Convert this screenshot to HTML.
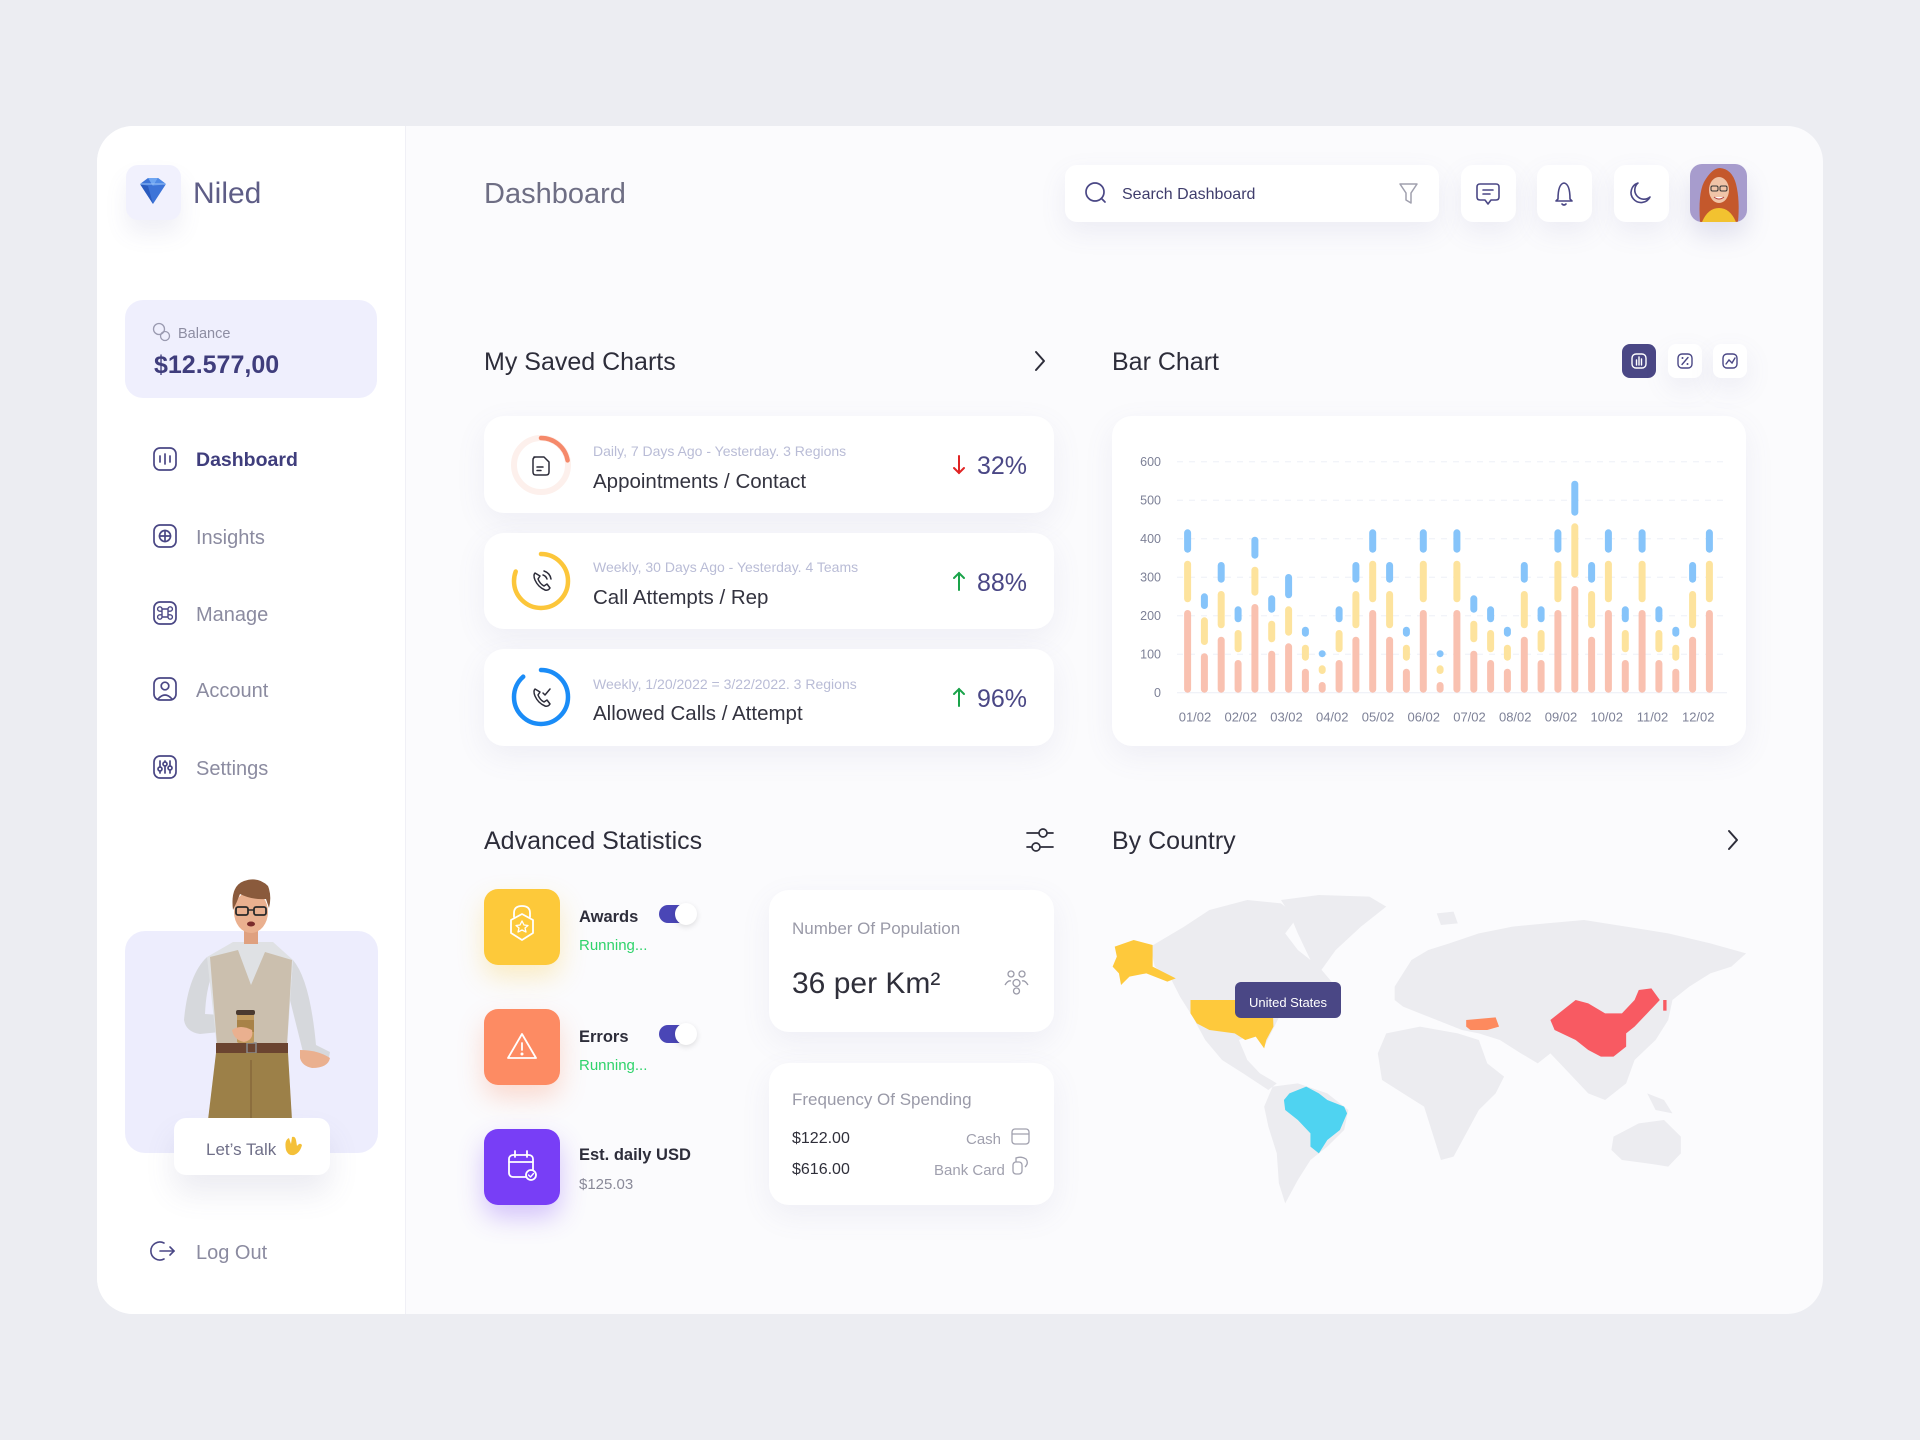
<!DOCTYPE html>
<html><head><meta charset="utf-8">
<style>
*{margin:0;padding:0;box-sizing:border-box}
html,body{width:1920px;height:1440px;overflow:hidden;background:#ecedf2;font-family:"Liberation Sans",sans-serif}
.a{position:absolute}
.t{position:absolute;white-space:nowrap;line-height:1;transform:translateY(2px)}
.card{position:absolute;background:#fff;border-radius:20px;box-shadow:0 10px 30px rgba(110,110,170,.09)}
.ib{position:absolute;background:#fff;border-radius:12px;box-shadow:0 10px 26px rgba(110,110,170,.10)}
svg{position:absolute;overflow:visible}
</style></head><body>

<!-- outer shell -->
<div class="a" style="left:97px;top:126px;width:1726px;height:1188px;border-radius:36px;background:#fbfbfd;overflow:hidden">
  <div class="a" style="left:0;top:0;width:309px;height:1188px;background:#fff;border-right:1px solid #f0f0f6"></div>
</div>

<!-- ============ SIDEBAR ============ -->
<div class="a" style="left:126px;top:165px;width:55px;height:55px;border-radius:12px;background:#f1f1fd;box-shadow:0 14px 22px rgba(110,110,170,.10)"></div>
<svg style="left:0;top:0" width="1" height="1">
  <polygon points="140,184 148,178 158,178 166,184 153,204" fill="#3d74d8"/>
  <polygon points="140,184 153,204 148,186" fill="#2a5bbf"/>
  <polygon points="148,178 153,186 158,178" fill="#6fa6f2"/>
  <polygon points="153,186 158,178 166,184" fill="#4f8ae6"/>
  <polyline points="140,184 166,184" stroke="#9cc3f7" stroke-width="1" fill="none"/>
</svg>
<div class="t" style="left:193px;top:177px;font-size:30px;color:#5e5d86">Niled</div>

<!-- balance -->
<div class="a" style="left:125px;top:300px;width:252px;height:98px;border-radius:18px;background:#efeffd"></div>
<svg style="left:0;top:0" width="1" height="1">
  <circle cx="159" cy="329" r="5.5" fill="none" stroke="#9a9ab0" stroke-width="1.3"/>
  <circle cx="165" cy="336" r="4.5" fill="none" stroke="#9a9ab0" stroke-width="1.3"/>
</svg>
<div class="t" style="left:178px;top:325px;font-size:14.5px;color:#8d8da2">Balance</div>
<div class="t" style="left:154px;top:351px;font-size:25px;font-weight:bold;color:#3f3d7c">$12.577,00</div>

<!-- nav -->
<svg style="left:0;top:0" width="1" height="1" fill="none" stroke="#4a4785" stroke-width="1.7" stroke-linecap="round">
  <rect x="154" y="448" width="22" height="22" rx="6"/>
  <line x1="160" y1="456" x2="160" y2="462"/><line x1="165" y1="454" x2="165" y2="464"/><line x1="170" y1="456" x2="170" y2="462"/>
  <rect x="154" y="525" width="22" height="22" rx="6"/>
  <circle cx="165" cy="536" r="5.5"/><line x1="165" y1="530.5" x2="165" y2="541.5"/><line x1="159.5" y1="536" x2="170.5" y2="536"/>
  <rect x="154" y="602" width="22" height="22" rx="6"/>
  <path d="M162 609 h6 v8 h-6 z M162 609 a2.2 2.2 0 1 0 -2.2 2.2 h2.2 M168 609 a2.2 2.2 0 1 1 2.2 2.2 h-2.2 M162 617 a2.2 2.2 0 1 1 -2.2 -2.2 h2.2 M168 617 a2.2 2.2 0 1 0 2.2 -2.2 h-2.2" stroke-width="1.4"/>
  <rect x="154" y="678" width="22" height="22" rx="6"/>
  <circle cx="165" cy="686" r="3.8"/><path d="M158 699 q7 -8 14 0"/>
  <rect x="154" y="756" width="22" height="22" rx="6"/>
  <line x1="160" y1="761" x2="160" y2="773"/><circle cx="160" cy="769" r="2" fill="#fff"/>
  <line x1="165" y1="761" x2="165" y2="773"/><circle cx="165" cy="764" r="2" fill="#fff"/>
  <line x1="170" y1="761" x2="170" y2="773"/><circle cx="170" cy="768" r="2" fill="#fff"/>
</svg>
<div class="t" style="left:196px;top:449px;font-size:19.5px;font-weight:bold;color:#3f3d7c">Dashboard</div>
<div class="t" style="left:196px;top:526px;font-size:20px;color:#8b8ba0">Insights</div>
<div class="t" style="left:196px;top:603px;font-size:20px;color:#8b8ba0">Manage</div>
<div class="t" style="left:196px;top:679px;font-size:20px;color:#8b8ba0">Account</div>
<div class="t" style="left:196px;top:757px;font-size:20px;color:#8b8ba0">Settings</div>

<!-- character card -->
<div class="a" style="left:125px;top:931px;width:253px;height:222px;border-radius:20px;background:#ededfd"></div>
<svg style="left:0;top:0" width="1" height="1">
  <path d="M207 957 Q188 975 184 1020 Q186 1032 200 1034 L240 1030 L238 1016 L205 1014 Q206 990 212 975 Z" fill="#d6d8dc"/>
  <path d="M293 960 Q310 980 316 1045 L330 1052 L328 1062 L305 1060 Q300 1040 290 1000 Z" fill="#d6d8dc"/>
  <path d="M300 1050 Q318 1050 330 1058 Q328 1068 312 1068 Q302 1066 300 1058 Z" fill="#eab08f"/>
  <path d="M233 942 L273 942 L293 960 L287 1047 L217 1047 L207 957 Z" fill="#dfe1e4"/>
  <path d="M210 957 L238 950 L251 985 L265 952 L292 960 L287 1045 L217 1045 Z" fill="#cbbfae"/>
  <rect x="216" y="1043" width="72" height="10" fill="#6b4430"/>
  <rect x="247" y="1043" width="9" height="10" fill="none" stroke="#8a8a8a" stroke-width="1.5"/>
  <path d="M216 1053 L288 1053 L292 1120 L208 1120 Z" fill="#9c8048"/>
  <line x1="251" y1="1060" x2="251" y2="1120" stroke="#86693a" stroke-width="1.5"/>
  <rect x="237" y="1012" width="17" height="31" rx="2" fill="#c09a5e"/>
  <rect x="236" y="1010" width="19" height="5" rx="2" fill="#4a3a30"/>
  <rect x="237" y="1020" width="17" height="12" fill="#a88248"/>
  <path d="M232 1030 Q240 1024 252 1030 Q254 1040 244 1042 Q234 1040 232 1030 Z" fill="#eab08f"/>
  <rect x="244" y="928" width="14" height="16" fill="#dfa07f"/>
  <ellipse cx="251" cy="912" rx="17" ry="21" fill="#eab08f"/>
  <path d="M233 910 Q230 886 244 881 Q258 876 268 886 Q272 896 269 908 L266 899 Q252 900 240 894 Q237 902 233 910 Z" fill="#8a5a3c"/>
  <rect x="236" y="907" width="12" height="8" rx="2" fill="none" stroke="#2a2a2a" stroke-width="1.8"/>
  <rect x="254" y="907" width="12" height="8" rx="2" fill="none" stroke="#2a2a2a" stroke-width="1.8"/>
  <line x1="248" y1="910" x2="254" y2="910" stroke="#2a2a2a" stroke-width="1.5"/>
  <ellipse cx="251" cy="924" rx="4" ry="2.5" fill="#7a2b2b"/>
</svg>
<div class="a" style="left:174px;top:1118px;width:156px;height:57px;border-radius:12px;background:#fff;box-shadow:0 18px 30px rgba(100,100,150,.12)"></div>
<div class="t" style="left:206px;top:1139px;font-size:17px;color:#6f6f88">Let’s Talk</div>
<svg style="left:0;top:0" width="1" height="1">
  <path d="M286 1150 Q284 1140 289 1138 L291 1144 L292 1137 Q295 1136 296 1140 L297 1146 Q300 1142 302 1145 Q300 1153 294 1155 Q288 1156 286 1150 Z" fill="#f4c038"/>
</svg>

<!-- logout -->
<svg style="left:0;top:0" width="1" height="1" fill="none" stroke="#4a4785" stroke-width="1.6" stroke-linecap="round">
  <path d="M164 1243 A9 9 0 1 0 164 1259"/>
  <line x1="160" y1="1251" x2="174" y2="1251"/><path d="M170 1247 L174 1251 L170 1255"/>
</svg>
<div class="t" style="left:196px;top:1241px;font-size:20px;color:#8b8ba0">Log Out</div>

<!-- ============ HEADER ============ -->
<div class="t" style="left:484px;top:178px;font-size:29px;color:#6e6e84">Dashboard</div>

<div class="ib" style="left:1065px;top:165px;width:374px;height:57px"></div>
<svg style="left:0;top:0" width="1" height="1" fill="none" stroke-linecap="round">
  <circle cx="1095" cy="192" r="9" stroke="#4a4785" stroke-width="1.7"/>
  <line x1="1101.5" y1="198.5" x2="1105" y2="202" stroke="#4a4785" stroke-width="1.7"/>
  <path d="M1400 184 H1417 L1411 193 V203 L1406 200 V193 Z" stroke="#a0a0ae" stroke-width="1.5" stroke-linejoin="round"/>
</svg>
<div class="t" style="left:1122px;top:185px;font-size:16px;color:#3f3d6c">Search Dashboard</div>

<div class="ib" style="left:1461px;top:165px;width:55px;height:57px"></div>
<div class="ib" style="left:1537px;top:165px;width:55px;height:57px"></div>
<div class="ib" style="left:1614px;top:165px;width:55px;height:57px"></div>
<svg style="left:0;top:0" width="1" height="1" fill="none" stroke="#4a4785" stroke-width="1.6" stroke-linecap="round" stroke-linejoin="round">
  <path d="M1480 184 H1496 Q1499 184 1499 187 V197 Q1499 200 1496 200 H1491 L1488 204 L1485 200 H1480 Q1477 200 1477 197 V187 Q1477 184 1480 184 Z"/>
  <line x1="1483" y1="190" x2="1493" y2="190"/><line x1="1483" y1="194" x2="1490" y2="194"/>
  <path d="M1558 199 Q1558 184 1564 183 Q1570 184 1570 199 L1572 201 H1556 Z"/>
  <path d="M1562 204 Q1564 206 1566 204"/>
  <path d="M1638 183 A10 10 0 1 0 1650 197 A8 8 0 0 1 1638 183 Z"/>
</svg>
<div class="a" style="left:1690px;top:164px;width:57px;height:58px;border-radius:12px;overflow:hidden;background:#a79ccd;box-shadow:0 14px 24px rgba(110,110,170,.18)">
  <svg style="left:0;top:0" width="57" height="58">
    <path d="M10 58 Q8 30 14 18 Q22 4 30 4 Q42 5 46 20 Q50 36 48 58 Z" fill="#c4582c"/>
    <ellipse cx="29" cy="26" rx="10" ry="13" fill="#f0c4a8"/>
    <path d="M12 58 Q18 44 29 44 Q40 44 46 58 Z" fill="#f2c230"/>
    <rect x="21" y="22" width="7" height="5" rx="1.5" fill="none" stroke="#333" stroke-width="1"/>
    <rect x="30" y="22" width="7" height="5" rx="1.5" fill="none" stroke="#333" stroke-width="1"/>
    <path d="M24 33 Q29 37 34 33" fill="#fff" stroke="#b04040" stroke-width="1"/>
  </svg>
</div>

<!-- ============ MY SAVED CHARTS ============ -->
<div class="t" style="left:484px;top:348px;font-size:25px;color:#2d2d3a">My Saved Charts</div>
<svg style="left:0;top:0" width="1" height="1"><path d="M1036 352 L1044 361 L1036 370" fill="none" stroke="#2d2d3a" stroke-width="2" stroke-linecap="round" stroke-linejoin="round"/></svg>

<div class="card" style="left:484px;top:416px;width:570px;height:97px"></div>
<div class="card" style="left:484px;top:533px;width:570px;height:96px"></div>
<div class="card" style="left:484px;top:649px;width:570px;height:97px"></div>

<svg style="left:0;top:0" width="1" height="1" fill="none" stroke-linecap="round">
  <circle cx="541" cy="465" r="27" stroke="#fdf0ec" stroke-width="6"/>
  <circle cx="541" cy="465" r="27" stroke="#f5896a" stroke-width="4.5" stroke-dasharray="37.7 200" transform="rotate(-90 541 465)"/>
  <circle cx="541" cy="581" r="27" stroke="#fcc63a" stroke-width="4.5" stroke-dasharray="136.7 200" transform="rotate(-90 541 581)"/>
  <circle cx="541" cy="697" r="27" stroke="#1a8cf7" stroke-width="4.5" stroke-dasharray="150 200" transform="rotate(-90 541 697)"/>
  <g stroke="#2d2d3a" stroke-width="1.5" stroke-linejoin="round">
    <path d="M534 457 H544 L549 462 V472 Q549 475 546 475 H536 Q533 475 533 472 V460 Q533 457 536 457 Z"/>
    <line x1="537" y1="467" x2="543" y2="467"/><line x1="537" y1="470.5" x2="541" y2="470.5"/>
    <path d="M535 573 Q533 575 535 580 Q538 587 545 590 Q548 591 550 588 L547 584 L544 586 Q540 584 538 579 L540 576 Z"/>
    <path d="M543 575 Q546 576 547 579 M544 571 Q550 573 551 579"/>
    <path d="M535 689 Q533 691 535 696 Q538 703 545 706 Q548 707 550 704 L547 700 L544 702 Q540 700 538 695 L540 692 Z"/>
    <path d="M543 693 L545 695 L550 689"/>
  </g>
  <g stroke-width="2">
    <line x1="959" y1="456" x2="959" y2="473" stroke="#e02424"/><path d="M954 468 L959 473 L964 468" stroke="#e02424"/>
    <line x1="959" y1="573" x2="959" y2="590" stroke="#1aa34a"/><path d="M954 578 L959 573 L964 578" stroke="#1aa34a"/>
    <line x1="959" y1="689" x2="959" y2="706" stroke="#1aa34a"/><path d="M954 694 L959 689 L964 694" stroke="#1aa34a"/>
  </g>
</svg>
<div class="t" style="left:593px;top:442px;font-size:14px;color:#b9bcd6">Daily, 7 Days Ago - Yesterday. 3 Regions</div>
<div class="t" style="left:593px;top:470px;font-size:20.5px;color:#33333f">Appointments / Contact</div>
<div class="t" style="left:977px;top:452px;font-size:25px;color:#4a4785">32%</div>
<div class="t" style="left:593px;top:558px;font-size:14px;color:#b9bcd6">Weekly, 30 Days Ago - Yesterday. 4 Teams</div>
<div class="t" style="left:593px;top:586px;font-size:20.5px;color:#33333f">Call Attempts / Rep</div>
<div class="t" style="left:977px;top:569px;font-size:25px;color:#4a4785">88%</div>
<div class="t" style="left:593px;top:675px;font-size:14px;color:#b9bcd6">Weekly, 1/20/2022 = 3/22/2022. 3 Regions</div>
<div class="t" style="left:593px;top:702px;font-size:20.5px;color:#33333f">Allowed Calls / Attempt</div>
<div class="t" style="left:977px;top:685px;font-size:25px;color:#4a4785">96%</div>

<!-- ============ BAR CHART ============ -->
<div class="t" style="left:1112px;top:348px;font-size:25px;color:#2d2d3a">Bar Chart</div>
<div class="a" style="left:1622px;top:344px;width:34px;height:34px;border-radius:8px;background:#4a4785"></div>
<div class="ib" style="left:1668px;top:344px;width:34px;height:34px;border-radius:8px"></div>
<div class="ib" style="left:1713px;top:344px;width:34px;height:34px;border-radius:8px"></div>
<svg style="left:0;top:0" width="1" height="1" fill="none" stroke-width="1.4" stroke-linecap="round">
  <rect x="1632" y="354" width="14" height="14" rx="4" stroke="#fff"/>
  <line x1="1636.5" y1="360" x2="1636.5" y2="365" stroke="#fff"/><line x1="1639" y1="357" x2="1639" y2="365" stroke="#fff"/><line x1="1641.5" y1="359" x2="1641.5" y2="365" stroke="#fff"/>
  <rect x="1678" y="354" width="14" height="14" rx="4" stroke="#4a4785"/>
  <line x1="1682" y1="364.5" x2="1688" y2="357.5" stroke="#4a4785"/><circle cx="1682.5" cy="358" r="1" fill="#4a4785"/><circle cx="1687.5" cy="364" r="1" fill="#4a4785"/>
  <rect x="1723" y="354" width="14" height="14" rx="4" stroke="#4a4785"/>
  <path d="M1726 364 L1729 360 L1732 363 L1735 358" stroke="#4a4785"/>
</svg>
<div class="card" style="left:1112px;top:416px;width:634px;height:330px"></div>

<svg style="left:1100px;top:410px" width="660" height="340" viewBox="1100 410 660 340">
  <defs>
    <g id="A"><rect x="-3.5" y="610" width="7" height="82.7" rx="3.5" fill="#f9c1b0"/><rect x="-3.5" y="560.7" width="7" height="41.6" rx="3.5" fill="#fde39d"/><rect x="-3.5" y="529.3" width="7" height="23.4" rx="3.5" fill="#86c4fa"/></g>
    <g id="B"><rect x="-3.5" y="653.3" width="7" height="39.4" rx="3.5" fill="#f9c1b0"/><rect x="-3.5" y="617.3" width="7" height="27.7" rx="3.5" fill="#fde39d"/><rect x="-3.5" y="593.3" width="7" height="15.7" rx="3.5" fill="#86c4fa"/></g>
    <g id="C"><rect x="-3.5" y="636.7" width="7" height="56" rx="3.5" fill="#f9c1b0"/><rect x="-3.5" y="591" width="7" height="37.3" rx="3.5" fill="#fde39d"/><rect x="-3.5" y="562" width="7" height="20.7" rx="3.5" fill="#86c4fa"/></g>
    <g id="D"><rect x="-3.5" y="660" width="7" height="32.7" rx="3.5" fill="#f9c1b0"/><rect x="-3.5" y="630" width="7" height="22.3" rx="3.5" fill="#fde39d"/><rect x="-3.5" y="606.3" width="7" height="16" rx="3.5" fill="#86c4fa"/></g>
    <g id="E"><rect x="-3.5" y="604" width="7" height="88.7" rx="3.5" fill="#f9c1b0"/><rect x="-3.5" y="566.7" width="7" height="29" rx="3.5" fill="#fde39d"/><rect x="-3.5" y="536.7" width="7" height="22" rx="3.5" fill="#86c4fa"/></g>
    <g id="F"><rect x="-3.5" y="650.7" width="7" height="42" rx="3.5" fill="#f9c1b0"/><rect x="-3.5" y="620.7" width="7" height="21.6" rx="3.5" fill="#fde39d"/><rect x="-3.5" y="595.3" width="7" height="17.4" rx="3.5" fill="#86c4fa"/></g>
    <g id="G"><rect x="-3.5" y="643.3" width="7" height="49.4" rx="3.5" fill="#f9c1b0"/><rect x="-3.5" y="606.3" width="7" height="29.4" rx="3.5" fill="#fde39d"/><rect x="-3.5" y="574" width="7" height="24.3" rx="3.5" fill="#86c4fa"/></g>
    <g id="H"><rect x="-3.5" y="668.7" width="7" height="24" rx="3.5" fill="#f9c1b0"/><rect x="-3.5" y="644.7" width="7" height="16" rx="3.5" fill="#fde39d"/><rect x="-3.5" y="626.7" width="7" height="10" rx="3.5" fill="#86c4fa"/></g>
    <g id="I"><rect x="-3.5" y="682" width="7" height="10.7" rx="3.5" fill="#f9c1b0"/><rect x="-3.5" y="665.3" width="7" height="8.7" rx="3.5" fill="#fde39d"/><rect x="-3.5" y="650.2" width="7" height="7" rx="3.5" fill="#86c4fa"/></g>
    <g id="J"><rect x="-3.5" y="586" width="7" height="106.7" rx="3.5" fill="#f9c1b0"/><rect x="-3.5" y="523.3" width="7" height="54.4" rx="3.5" fill="#fde39d"/><rect x="-3.5" y="480.7" width="7" height="35" rx="3.5" fill="#86c4fa"/></g>
  </defs>
  <g stroke="#eef0f7" stroke-width="1" stroke-dasharray="6 6">
    <line x1="1177" y1="461.7" x2="1727" y2="461.7"/>
    <line x1="1177" y1="500.2" x2="1727" y2="500.2"/>
    <line x1="1177" y1="538.7" x2="1727" y2="538.7"/>
    <line x1="1177" y1="577.2" x2="1727" y2="577.2"/>
    <line x1="1177" y1="615.7" x2="1727" y2="615.7"/>
    <line x1="1177" y1="654.2" x2="1727" y2="654.2"/>
  </g>
  <line x1="1177" y1="692.7" x2="1727" y2="692.7" stroke="#eef0f7" stroke-width="1.2"/>
  <g font-family="Liberation Sans, sans-serif" font-size="12.5" fill="#7d8197" text-anchor="end">
    <text x="1161" y="466.2">600</text><text x="1161" y="504.7">500</text><text x="1161" y="543.2">400</text>
    <text x="1161" y="581.7">300</text><text x="1161" y="620.2">200</text><text x="1161" y="658.7">100</text>
    <text x="1161" y="697.2">0</text>
  </g>
  <use href="#A" x="1187.6"/><use href="#B" x="1204.4"/><use href="#C" x="1221.2"/><use href="#D" x="1238.1"/>
  <use href="#E" x="1254.9"/><use href="#F" x="1271.7"/><use href="#G" x="1288.6"/><use href="#H" x="1305.4"/>
  <use href="#I" x="1322.2"/><use href="#D" x="1339.1"/><use href="#C" x="1355.9"/><use href="#A" x="1372.7"/>
  <use href="#C" x="1389.6"/><use href="#H" x="1406.4"/><use href="#A" x="1423.3"/><use href="#I" x="1440.1"/>
  <use href="#A" x="1456.9"/><use href="#F" x="1473.8"/><use href="#D" x="1490.6"/><use href="#H" x="1507.4"/>
  <use href="#C" x="1524.3"/><use href="#D" x="1541.1"/><use href="#A" x="1557.9"/><use href="#J" x="1574.8"/>
  <use href="#C" x="1591.6"/><use href="#A" x="1608.4"/><use href="#D" x="1625.3"/><use href="#A" x="1642.1"/>
  <use href="#D" x="1658.9"/><use href="#H" x="1675.8"/><use href="#C" x="1692.6"/><use href="#A" x="1709.4"/>
  <g font-family="Liberation Sans, sans-serif" font-size="13" fill="#7d8197" text-anchor="middle">
    <text x="1195" y="721.5">01/02</text><text x="1240.75" y="721.5">02/02</text><text x="1286.5" y="721.5">03/02</text>
    <text x="1332.25" y="721.5">04/02</text><text x="1378" y="721.5">05/02</text><text x="1423.75" y="721.5">06/02</text>
    <text x="1469.5" y="721.5">07/02</text><text x="1515.25" y="721.5">08/02</text><text x="1561" y="721.5">09/02</text>
    <text x="1606.75" y="721.5">10/02</text><text x="1652.5" y="721.5">11/02</text><text x="1698.25" y="721.5">12/02</text>
  </g>
</svg>

<!-- ============ ADVANCED STATISTICS ============ -->
<div class="t" style="left:484px;top:827px;font-size:25px;color:#2d2d3a">Advanced Statistics</div>
<svg style="left:0;top:0" width="1" height="1" fill="none" stroke="#2d2d3a" stroke-width="1.7" stroke-linecap="round">
  <line x1="1027" y1="833" x2="1053" y2="833"/><circle cx="1043" cy="833" r="4" fill="#fbfbfd"/>
  <line x1="1027" y1="847" x2="1053" y2="847"/><circle cx="1036" cy="847" r="4" fill="#fbfbfd"/>
</svg>

<div class="a" style="left:484px;top:889px;width:76px;height:76px;border-radius:14px;background:#fdc93a;box-shadow:0 12px 26px rgba(253,201,58,.30)"></div>
<div class="a" style="left:484px;top:1009px;width:76px;height:76px;border-radius:14px;background:#fd8b63;box-shadow:0 12px 26px rgba(253,139,99,.30)"></div>
<div class="a" style="left:484px;top:1129px;width:76px;height:76px;border-radius:14px;background:#783ef6;box-shadow:0 12px 26px rgba(120,62,246,.30)"></div>
<svg style="left:0;top:0" width="1" height="1" fill="none" stroke="#fff" stroke-width="1.8" stroke-linecap="round" stroke-linejoin="round">
  <path d="M514 917 V913 Q514 906 522 906 Q530 906 530 913 V917"/>
  <path d="M522 914 L533 920 V933 L522 940 L511 933 V920 Z"/>
  <path d="M522 921 L524 925 L528 925.5 L525 928 L526 932 L522 930 L518 932 L519 928 L516 925.5 L520 925 Z" stroke-width="1.3"/>
  <path d="M522 1034 L536 1058 H508 Z"/>
  <line x1="522" y1="1043" x2="522" y2="1050"/><circle cx="522" cy="1054" r="0.6" fill="#fff"/>
  <rect x="509" y="1155" width="24" height="22" rx="4"/>
  <line x1="509" y1="1162" x2="533" y2="1162"/><line x1="515" y1="1151" x2="515" y2="1157"/><line x1="527" y1="1151" x2="527" y2="1157"/>
  <circle cx="531" cy="1175" r="5" fill="#783ef6"/><path d="M528.5 1175 L530.5 1177 L533.5 1173.5" stroke-width="1.4"/>
</svg>

<div class="t" style="left:579px;top:907px;font-size:16.5px;font-weight:bold;color:#2d2d3a">Awards</div>
<div class="t" style="left:579px;top:936px;font-size:15px;color:#2fd36b">Running...</div>
<div class="t" style="left:579px;top:1027px;font-size:16.5px;font-weight:bold;color:#2d2d3a">Errors</div>
<div class="t" style="left:579px;top:1056px;font-size:15px;color:#2fd36b">Running...</div>
<div class="t" style="left:579px;top:1145px;font-size:16.5px;font-weight:bold;color:#2d2d3a">Est. daily USD</div>
<div class="t" style="left:579px;top:1175px;font-size:15px;color:#8a8a99">$125.03</div>

<div class="a" style="left:659px;top:905px;width:36px;height:18px;border-radius:9px;background:#4a46b6"></div>
<div class="a" style="left:675px;top:903px;width:22px;height:22px;border-radius:11px;background:#fff;box-shadow:0 2px 6px rgba(0,0,0,.12)"></div>
<div class="a" style="left:659px;top:1025px;width:36px;height:18px;border-radius:9px;background:#4a46b6"></div>
<div class="a" style="left:675px;top:1023px;width:22px;height:22px;border-radius:11px;background:#fff;box-shadow:0 2px 6px rgba(0,0,0,.12)"></div>

<div class="card" style="left:769px;top:890px;width:285px;height:142px"></div>
<div class="t" style="left:792px;top:918px;font-size:17px;color:#9a9aa8">Number Of Population</div>
<div class="t" style="left:792px;top:967px;font-size:30px;color:#2f2f3a">36 per Km²</div>
<svg style="left:0;top:0" width="1" height="1" fill="none" stroke="#9a9aa8" stroke-width="1.3">
  <circle cx="1011" cy="974" r="3"/><circle cx="1022" cy="974" r="3"/>
  <circle cx="1016.5" cy="983" r="3.5"/><circle cx="1016.5" cy="991" r="3"/>
  <path d="M1005 985 Q1008 980 1011 981 M1028 985 Q1025 980 1022 981"/>
</svg>

<div class="card" style="left:769px;top:1063px;width:285px;height:142px"></div>
<div class="t" style="left:792px;top:1089px;font-size:17px;color:#9a9aa8">Frequency Of Spending</div>
<div class="t" style="left:792px;top:1129px;font-size:16px;color:#2f2f3a">$122.00</div>
<div class="t" style="left:792px;top:1160px;font-size:16px;color:#2f2f3a">$616.00</div>
<div class="t" style="left:966px;top:1130px;font-size:15px;color:#a0a0ae">Cash</div>
<div class="t" style="left:934px;top:1161px;font-size:15px;color:#a0a0ae">Bank Card</div>
<svg style="left:0;top:0" width="1" height="1" fill="none" stroke="#a0a0ae" stroke-width="1.3">
  <rect x="1012" y="1129" width="17" height="15" rx="3"/><line x1="1012" y1="1134" x2="1029" y2="1134"/>
  <rect x="1013" y="1162" width="9" height="12" rx="3"/><path d="M1016 1162 V1158 Q1021 1156 1026 1159 Q1029 1163 1025 1167"/>
</svg>

<!-- ============ BY COUNTRY ============ -->
<div class="t" style="left:1112px;top:827px;font-size:25px;color:#2d2d3a">By Country</div>
<svg style="left:0;top:0" width="1" height="1"><path d="M1729 831 L1737 840 L1729 849" fill="none" stroke="#2d2d3a" stroke-width="2" stroke-linecap="round" stroke-linejoin="round"/></svg>

<svg style="left:1100px;top:800px" width="660" height="440" viewBox="0 0 1568 1320" preserveAspectRatio="none">
  <g fill="#ececf0">
    <polygon points="120,440 200,380 260,330 350,300 430,310 470,350 440,400 470,450 520,500 560,560 520,560 470,600 430,640 410,690 390,740 370,700 330,720 350,780 380,820 420,850 400,870 340,820 290,780 250,720 220,650 190,590 170,540 130,500"/>
    <polygon points="430,300 520,285 640,290 680,320 620,380 560,450 520,520 500,480 470,400 450,340"/>
    <polygon points="410,860 470,850 540,880 590,930 580,990 540,1040 500,1080 470,1140 440,1210 425,1150 420,1060 400,980 390,920"/>
    <polygon points="700,560 740,480 780,450 830,430 900,400 980,380 1060,370 1150,360 1250,380 1350,400 1450,430 1535,460 1500,500 1450,520 1400,560 1360,600 1350,660 1320,720 1270,780 1250,850 1200,900 1160,880 1130,840 1100,800 1070,760 1040,790 1000,760 950,720 900,700 860,690 800,660 760,640 720,620 700,600"/>
    <polygon points="680,700 760,680 850,700 900,720 920,790 960,830 940,880 900,930 870,1000 840,1070 810,1080 790,1000 770,920 720,880 670,840 660,760"/>
    <polygon points="1220,1010 1280,970 1340,960 1380,1010 1380,1060 1350,1100 1300,1090 1240,1080 1215,1050"/>
    <polygon points="1300,880 1340,900 1360,940 1320,930"/>
    <polygon points="800,340 840,335 850,370 810,375"/>
  </g>
  <polygon fill="#fec93c" points="35,440 80,420 125,435 125,500 180,535 160,545 110,520 70,530 50,555 45,520 30,500 40,470"/>
  <polygon fill="#fec93c" points="215,600 410,600 412,680 395,720 390,745 370,710 345,720 320,700 260,690 230,670 215,640"/>
  <polygon fill="#fd8a5e" points="870,660 940,652 948,680 920,690 880,690 870,680"/>
  <polygon fill="#f85a62" points="1070,660 1100,630 1130,600 1160,610 1200,640 1240,640 1270,600 1280,570 1310,565 1330,600 1300,640 1270,680 1250,700 1250,740 1220,770 1190,770 1160,750 1130,720 1080,690"/>
  <polygon fill="#f85a62" points="1338,600 1346,600 1346,632 1338,632"/>
  <polygon fill="#4fd3f1" points="450,880 490,860 520,880 540,900 580,920 587,940 570,990 540,1020 520,1060 500,1040 500,1000 470,960 440,930 437,900"/>
</svg>
<div class="a" style="left:1235px;top:982px;width:106px;height:36px;border-radius:6px;background:#4a4785"></div>
<div class="t" style="left:1235px;top:993.5px;width:106px;text-align:center;font-size:13px;color:#fff">United States</div>

</body></html>
